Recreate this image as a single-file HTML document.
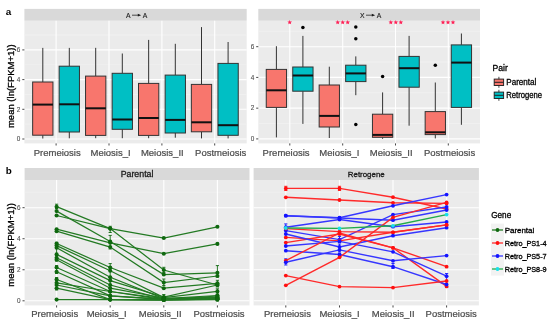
<!DOCTYPE html>
<html><head><meta charset="utf-8"><title>figure</title>
<style>html,body{margin:0;padding:0;background:#fff;}svg{display:block;will-change:transform;}</style></head>
<body><svg width="550" height="321" viewBox="0 0 550 321" font-family='"Liberation Sans", sans-serif'>
<rect width="550" height="321" fill="#fff"/>
<rect x="24.4" y="8.9" width="222.3" height="11.9" fill="#D9D9D9"/>
<rect x="24.4" y="20.8" width="222.3" height="122.6" fill="#EBEBEB"/>
<line x1="24.4" y1="124.15" x2="246.7" y2="124.15" stroke="#F4F4F4" stroke-width="0.55"/>
<line x1="24.4" y1="94.45" x2="246.7" y2="94.45" stroke="#F4F4F4" stroke-width="0.55"/>
<line x1="24.4" y1="64.75" x2="246.7" y2="64.75" stroke="#F4F4F4" stroke-width="0.55"/>
<line x1="24.4" y1="35.05" x2="246.7" y2="35.05" stroke="#F4F4F4" stroke-width="0.55"/>
<line x1="24.4" y1="139" x2="246.7" y2="139" stroke="#FFFFFF" stroke-width="1.1"/>
<line x1="24.4" y1="109.3" x2="246.7" y2="109.3" stroke="#FFFFFF" stroke-width="1.1"/>
<line x1="24.4" y1="79.6" x2="246.7" y2="79.6" stroke="#FFFFFF" stroke-width="1.1"/>
<line x1="24.4" y1="49.9" x2="246.7" y2="49.9" stroke="#FFFFFF" stroke-width="1.1"/>
<line x1="56.1" y1="20.8" x2="56.1" y2="143.4" stroke="#FFFFFF" stroke-width="1.1"/>
<line x1="109" y1="20.8" x2="109" y2="143.4" stroke="#FFFFFF" stroke-width="1.1"/>
<line x1="161.9" y1="20.8" x2="161.9" y2="143.4" stroke="#FFFFFF" stroke-width="1.1"/>
<line x1="214.7" y1="20.8" x2="214.7" y2="143.4" stroke="#FFFFFF" stroke-width="1.1"/>
<line x1="42.8" y1="47.9" x2="42.8" y2="82" stroke="#333333" stroke-width="1"/>
<line x1="42.8" y1="135.2" x2="42.8" y2="138.5" stroke="#333333" stroke-width="1"/>
<rect x="32.65" y="82" width="20.3" height="53.2" fill="#F8766D" stroke="#333333" stroke-width="1"/>
<line x1="32.65" y1="104.6" x2="52.95" y2="104.6" stroke="#111111" stroke-width="2"/>
<line x1="69.3" y1="47.9" x2="69.3" y2="66.2" stroke="#333333" stroke-width="1"/>
<line x1="69.3" y1="132" x2="69.3" y2="138.3" stroke="#333333" stroke-width="1"/>
<rect x="59.15" y="66.2" width="20.3" height="65.8" fill="#00BFC4" stroke="#333333" stroke-width="1"/>
<line x1="59.15" y1="104.3" x2="79.45" y2="104.3" stroke="#111111" stroke-width="2"/>
<line x1="95.7" y1="47.85" x2="95.7" y2="76.1" stroke="#333333" stroke-width="1"/>
<line x1="95.7" y1="135.4" x2="95.7" y2="138.2" stroke="#333333" stroke-width="1"/>
<rect x="85.55" y="76.1" width="20.3" height="59.3" fill="#F8766D" stroke="#333333" stroke-width="1"/>
<line x1="85.55" y1="108.3" x2="105.85" y2="108.3" stroke="#111111" stroke-width="2"/>
<line x1="122.3" y1="53.5" x2="122.3" y2="73.3" stroke="#333333" stroke-width="1"/>
<line x1="122.3" y1="129.3" x2="122.3" y2="138.2" stroke="#333333" stroke-width="1"/>
<rect x="112.15" y="73.3" width="20.3" height="56" fill="#00BFC4" stroke="#333333" stroke-width="1"/>
<line x1="112.15" y1="119.5" x2="132.45" y2="119.5" stroke="#111111" stroke-width="2"/>
<line x1="148.65" y1="39.9" x2="148.65" y2="83.4" stroke="#333333" stroke-width="1"/>
<line x1="148.65" y1="135.4" x2="148.65" y2="138.2" stroke="#333333" stroke-width="1"/>
<rect x="138.5" y="83.4" width="20.3" height="52" fill="#F8766D" stroke="#333333" stroke-width="1"/>
<line x1="138.5" y1="118" x2="158.8" y2="118" stroke="#111111" stroke-width="2"/>
<line x1="175.3" y1="43.8" x2="175.3" y2="75.1" stroke="#333333" stroke-width="1"/>
<line x1="175.3" y1="133" x2="175.3" y2="137.7" stroke="#333333" stroke-width="1"/>
<rect x="165.15" y="75.1" width="20.3" height="57.9" fill="#00BFC4" stroke="#333333" stroke-width="1"/>
<line x1="165.15" y1="119.9" x2="185.45" y2="119.9" stroke="#111111" stroke-width="2"/>
<line x1="201.5" y1="27.1" x2="201.5" y2="84.4" stroke="#333333" stroke-width="1"/>
<line x1="201.5" y1="131.8" x2="201.5" y2="138.4" stroke="#333333" stroke-width="1"/>
<rect x="191.35" y="84.4" width="20.3" height="47.4" fill="#F8766D" stroke="#333333" stroke-width="1"/>
<line x1="191.35" y1="122.3" x2="211.65" y2="122.3" stroke="#111111" stroke-width="2"/>
<line x1="228.1" y1="42" x2="228.1" y2="63.4" stroke="#333333" stroke-width="1"/>
<line x1="228.1" y1="135.3" x2="228.1" y2="138.4" stroke="#333333" stroke-width="1"/>
<rect x="217.95" y="63.4" width="20.3" height="71.9" fill="#00BFC4" stroke="#333333" stroke-width="1"/>
<line x1="217.95" y1="125.2" x2="238.25" y2="125.2" stroke="#111111" stroke-width="2"/>
<line x1="22.3" y1="139" x2="24.4" y2="139" stroke="#333333" stroke-width="0.9"/>
<text x="20.4" y="141.3" font-size="6.4" fill="#4D4D4D" text-anchor="end" stroke="#4D4D4D" stroke-width="0.1">0</text>
<line x1="22.3" y1="109.3" x2="24.4" y2="109.3" stroke="#333333" stroke-width="0.9"/>
<text x="20.4" y="111.6" font-size="6.4" fill="#4D4D4D" text-anchor="end" stroke="#4D4D4D" stroke-width="0.1">2</text>
<line x1="22.3" y1="79.6" x2="24.4" y2="79.6" stroke="#333333" stroke-width="0.9"/>
<text x="20.4" y="81.9" font-size="6.4" fill="#4D4D4D" text-anchor="end" stroke="#4D4D4D" stroke-width="0.1">4</text>
<line x1="22.3" y1="49.9" x2="24.4" y2="49.9" stroke="#333333" stroke-width="0.9"/>
<text x="20.4" y="52.2" font-size="6.4" fill="#4D4D4D" text-anchor="end" stroke="#4D4D4D" stroke-width="0.1">6</text>
<line x1="56.1" y1="143.4" x2="56.1" y2="145.5" stroke="#333333" stroke-width="0.9"/>
<line x1="109" y1="143.4" x2="109" y2="145.5" stroke="#333333" stroke-width="0.9"/>
<line x1="161.9" y1="143.4" x2="161.9" y2="145.5" stroke="#333333" stroke-width="0.9"/>
<line x1="214.7" y1="143.4" x2="214.7" y2="145.5" stroke="#333333" stroke-width="0.9"/>
<rect x="258.3" y="8.9" width="221.7" height="11.9" fill="#D9D9D9"/>
<rect x="258.3" y="20.8" width="221.7" height="122.6" fill="#EBEBEB"/>
<line x1="258.3" y1="123.53" x2="480" y2="123.53" stroke="#F4F4F4" stroke-width="0.55"/>
<line x1="258.3" y1="92.79" x2="480" y2="92.79" stroke="#F4F4F4" stroke-width="0.55"/>
<line x1="258.3" y1="62.05" x2="480" y2="62.05" stroke="#F4F4F4" stroke-width="0.55"/>
<line x1="258.3" y1="31.31" x2="480" y2="31.31" stroke="#F4F4F4" stroke-width="0.55"/>
<line x1="258.3" y1="138.9" x2="480" y2="138.9" stroke="#FFFFFF" stroke-width="1.1"/>
<line x1="258.3" y1="108.16" x2="480" y2="108.16" stroke="#FFFFFF" stroke-width="1.1"/>
<line x1="258.3" y1="77.42" x2="480" y2="77.42" stroke="#FFFFFF" stroke-width="1.1"/>
<line x1="258.3" y1="46.68" x2="480" y2="46.68" stroke="#FFFFFF" stroke-width="1.1"/>
<line x1="289.8" y1="20.8" x2="289.8" y2="143.4" stroke="#FFFFFF" stroke-width="1.1"/>
<line x1="342.7" y1="20.8" x2="342.7" y2="143.4" stroke="#FFFFFF" stroke-width="1.1"/>
<line x1="395.5" y1="20.8" x2="395.5" y2="143.4" stroke="#FFFFFF" stroke-width="1.1"/>
<line x1="448.3" y1="20.8" x2="448.3" y2="143.4" stroke="#FFFFFF" stroke-width="1.1"/>
<line x1="276.4" y1="46.2" x2="276.4" y2="69.4" stroke="#333333" stroke-width="1"/>
<line x1="276.4" y1="107.4" x2="276.4" y2="137.4" stroke="#333333" stroke-width="1"/>
<rect x="266.25" y="69.4" width="20.3" height="38" fill="#F8766D" stroke="#333333" stroke-width="1"/>
<line x1="266.25" y1="90.3" x2="286.55" y2="90.3" stroke="#111111" stroke-width="2"/>
<line x1="302.9" y1="35.9" x2="302.9" y2="67" stroke="#333333" stroke-width="1"/>
<line x1="302.9" y1="91.2" x2="302.9" y2="123.9" stroke="#333333" stroke-width="1"/>
<rect x="292.75" y="67" width="20.3" height="24.2" fill="#00BFC4" stroke="#333333" stroke-width="1"/>
<line x1="292.75" y1="75.5" x2="313.05" y2="75.5" stroke="#111111" stroke-width="2"/>
<circle cx="302.9" cy="27.5" r="1.75" fill="#000"/>
<line x1="329.3" y1="66.7" x2="329.3" y2="85" stroke="#333333" stroke-width="1"/>
<line x1="329.3" y1="127" x2="329.3" y2="138" stroke="#333333" stroke-width="1"/>
<rect x="319.15" y="85" width="20.3" height="42" fill="#F8766D" stroke="#333333" stroke-width="1"/>
<line x1="319.15" y1="115.9" x2="339.45" y2="115.9" stroke="#111111" stroke-width="2"/>
<line x1="355.8" y1="56.4" x2="355.8" y2="65.2" stroke="#333333" stroke-width="1"/>
<line x1="355.8" y1="81.6" x2="355.8" y2="95.2" stroke="#333333" stroke-width="1"/>
<rect x="345.65" y="65.2" width="20.3" height="16.4" fill="#00BFC4" stroke="#333333" stroke-width="1"/>
<line x1="345.65" y1="73.4" x2="365.95" y2="73.4" stroke="#111111" stroke-width="2"/>
<circle cx="355.8" cy="27.1" r="1.75" fill="#000"/>
<circle cx="355.8" cy="38.7" r="1.75" fill="#000"/>
<circle cx="355.8" cy="124.5" r="1.75" fill="#000"/>
<line x1="382.6" y1="92.4" x2="382.6" y2="114.2" stroke="#333333" stroke-width="1"/>
<line x1="382.6" y1="137.3" x2="382.6" y2="138.8" stroke="#333333" stroke-width="1"/>
<rect x="372.45" y="114.2" width="20.3" height="23.1" fill="#F8766D" stroke="#333333" stroke-width="1"/>
<line x1="372.45" y1="134.9" x2="392.75" y2="134.9" stroke="#111111" stroke-width="2"/>
<circle cx="382.6" cy="76.4" r="1.75" fill="#000"/>
<line x1="409.1" y1="35.9" x2="409.1" y2="56.4" stroke="#333333" stroke-width="1"/>
<line x1="409.1" y1="87.2" x2="409.1" y2="125.7" stroke="#333333" stroke-width="1"/>
<rect x="398.95" y="56.4" width="20.3" height="30.8" fill="#00BFC4" stroke="#333333" stroke-width="1"/>
<line x1="398.95" y1="68.2" x2="419.25" y2="68.2" stroke="#111111" stroke-width="2"/>
<line x1="435.3" y1="82.5" x2="435.3" y2="111.6" stroke="#333333" stroke-width="1"/>
<line x1="435.3" y1="134.6" x2="435.3" y2="138.4" stroke="#333333" stroke-width="1"/>
<rect x="425.15" y="111.6" width="20.3" height="23" fill="#F8766D" stroke="#333333" stroke-width="1"/>
<line x1="425.15" y1="132.3" x2="445.45" y2="132.3" stroke="#111111" stroke-width="2"/>
<circle cx="435.3" cy="65.2" r="1.75" fill="#000"/>
<line x1="461.4" y1="33.5" x2="461.4" y2="44.9" stroke="#333333" stroke-width="1"/>
<line x1="461.4" y1="107.4" x2="461.4" y2="124.8" stroke="#333333" stroke-width="1"/>
<rect x="451.25" y="44.9" width="20.3" height="62.5" fill="#00BFC4" stroke="#333333" stroke-width="1"/>
<line x1="451.25" y1="62.6" x2="471.55" y2="62.6" stroke="#111111" stroke-width="2"/>
<line x1="256.2" y1="138.9" x2="258.3" y2="138.9" stroke="#333333" stroke-width="0.9"/>
<text x="254.3" y="141.2" font-size="6.4" fill="#4D4D4D" text-anchor="end" stroke="#4D4D4D" stroke-width="0.1">0</text>
<line x1="256.2" y1="108.16" x2="258.3" y2="108.16" stroke="#333333" stroke-width="0.9"/>
<text x="254.3" y="110.46" font-size="6.4" fill="#4D4D4D" text-anchor="end" stroke="#4D4D4D" stroke-width="0.1">2</text>
<line x1="256.2" y1="77.42" x2="258.3" y2="77.42" stroke="#333333" stroke-width="0.9"/>
<text x="254.3" y="79.72" font-size="6.4" fill="#4D4D4D" text-anchor="end" stroke="#4D4D4D" stroke-width="0.1">4</text>
<line x1="256.2" y1="46.68" x2="258.3" y2="46.68" stroke="#333333" stroke-width="0.9"/>
<text x="254.3" y="48.98" font-size="6.4" fill="#4D4D4D" text-anchor="end" stroke="#4D4D4D" stroke-width="0.1">6</text>
<line x1="289.8" y1="143.4" x2="289.8" y2="145.5" stroke="#333333" stroke-width="0.9"/>
<line x1="342.7" y1="143.4" x2="342.7" y2="145.5" stroke="#333333" stroke-width="0.9"/>
<line x1="395.5" y1="143.4" x2="395.5" y2="145.5" stroke="#333333" stroke-width="0.9"/>
<line x1="448.3" y1="143.4" x2="448.3" y2="145.5" stroke="#333333" stroke-width="0.9"/>
<text x="126" y="17.7" font-size="6.8" fill="#1A1A1A" text-anchor="start" stroke="#1A1A1A" stroke-width="0.12">A</text>
<line x1="132" y1="15.2" x2="139.2" y2="15.2" stroke="#1A1A1A" stroke-width="0.75"/>
<polygon points="137.8,13.8 141.2,15.2 137.8,16.6" fill="#1A1A1A"/>
<text x="147.2" y="17.7" font-size="6.8" fill="#1A1A1A" text-anchor="end" stroke="#1A1A1A" stroke-width="0.12">A</text>
<text x="360" y="17.7" font-size="6.8" fill="#1A1A1A" text-anchor="start" stroke="#1A1A1A" stroke-width="0.12">X</text>
<line x1="366" y1="15.2" x2="373.2" y2="15.2" stroke="#1A1A1A" stroke-width="0.75"/>
<polygon points="371.8,13.8 375.2,15.2 371.8,16.6" fill="#1A1A1A"/>
<text x="381.2" y="17.7" font-size="6.8" fill="#1A1A1A" text-anchor="end" stroke="#1A1A1A" stroke-width="0.12">A</text>
<polygon points="289.7,19.9 290.33,21.43 291.98,21.56 290.73,22.63 291.11,24.24 289.7,23.38 288.29,24.24 288.67,22.63 287.42,21.56 289.07,21.43" fill="#FF1F55"/>
<polygon points="337.7,19.9 338.33,21.43 339.98,21.56 338.73,22.63 339.11,24.24 337.7,23.38 336.29,24.24 336.67,22.63 335.42,21.56 337.07,21.43" fill="#FF1F55"/>
<polygon points="342.7,19.9 343.33,21.43 344.98,21.56 343.73,22.63 344.11,24.24 342.7,23.38 341.29,24.24 341.67,22.63 340.42,21.56 342.07,21.43" fill="#FF1F55"/>
<polygon points="347.7,19.9 348.33,21.43 349.98,21.56 348.73,22.63 349.11,24.24 347.7,23.38 346.29,24.24 346.67,22.63 345.42,21.56 347.07,21.43" fill="#FF1F55"/>
<polygon points="390.8,19.9 391.43,21.43 393.08,21.56 391.83,22.63 392.21,24.24 390.8,23.38 389.39,24.24 389.77,22.63 388.52,21.56 390.17,21.43" fill="#FF1F55"/>
<polygon points="395.8,19.9 396.43,21.43 398.08,21.56 396.83,22.63 397.21,24.24 395.8,23.38 394.39,24.24 394.77,22.63 393.52,21.56 395.17,21.43" fill="#FF1F55"/>
<polygon points="400.8,19.9 401.43,21.43 403.08,21.56 401.83,22.63 402.21,24.24 400.8,23.38 399.39,24.24 399.77,22.63 398.52,21.56 400.17,21.43" fill="#FF1F55"/>
<polygon points="443,19.9 443.63,21.43 445.28,21.56 444.03,22.63 444.41,24.24 443,23.38 441.59,24.24 441.97,22.63 440.72,21.56 442.37,21.43" fill="#FF1F55"/>
<polygon points="448,19.9 448.63,21.43 450.28,21.56 449.03,22.63 449.41,24.24 448,23.38 446.59,24.24 446.97,22.63 445.72,21.56 447.37,21.43" fill="#FF1F55"/>
<polygon points="453,19.9 453.63,21.43 455.28,21.56 454.03,22.63 454.41,24.24 453,23.38 451.59,24.24 451.97,22.63 450.72,21.56 452.37,21.43" fill="#FF1F55"/>
<text x="57.2" y="155.6" font-size="9.5" fill="#4D4D4D" text-anchor="middle" stroke="#4D4D4D" stroke-width="0.22">Premeiosis</text>
<text x="110.6" y="155.6" font-size="9.5" fill="#4D4D4D" text-anchor="middle" stroke="#4D4D4D" stroke-width="0.22">Meiosis_I</text>
<text x="162.3" y="155.6" font-size="9.5" fill="#4D4D4D" text-anchor="middle" stroke="#4D4D4D" stroke-width="0.22">Meiosis_II</text>
<text x="220.7" y="155.6" font-size="9.5" fill="#4D4D4D" text-anchor="middle" stroke="#4D4D4D" stroke-width="0.22">Postmeiosis</text>
<text x="286.1" y="155.6" font-size="9.5" fill="#4D4D4D" text-anchor="middle" stroke="#4D4D4D" stroke-width="0.22">Premeiosis</text>
<text x="339.4" y="155.6" font-size="9.5" fill="#4D4D4D" text-anchor="middle" stroke="#4D4D4D" stroke-width="0.22">Meiosis_I</text>
<text x="391.2" y="155.6" font-size="9.5" fill="#4D4D4D" text-anchor="middle" stroke="#4D4D4D" stroke-width="0.22">Meiosis_II</text>
<text x="449.6" y="155.6" font-size="9.5" fill="#4D4D4D" text-anchor="middle" stroke="#4D4D4D" stroke-width="0.22">Postmeiosis</text>
<text x="0" y="0" font-size="9.5" fill="#000" text-anchor="middle" stroke="#000" stroke-width="0.3" transform="translate(14.3,86.2) rotate(-90)">mean (ln(FPKM+1))</text>
<text x="5.8" y="15.2" font-size="9.9" fill="#000" text-anchor="start" font-weight="bold">a</text>
<text x="5.8" y="174.2" font-size="9.9" fill="#000" text-anchor="start" font-weight="bold">b</text>
<text x="492.5" y="71.4" font-size="8.6" fill="#000" text-anchor="start" stroke="#000" stroke-width="0.3">Pair</text>
<line x1="498.9" y1="76.8" x2="498.9" y2="87.8" stroke="#333333" stroke-width="0.9"/>
<rect x="494.2" y="79.1" width="9.4" height="6.4" fill="#F8766D" stroke="#222222" stroke-width="0.95"/>
<line x1="494.2" y1="82.3" x2="503.6" y2="82.3" stroke="#222222" stroke-width="1"/>
<text x="506.3" y="85.4" font-size="8.4" fill="#000" text-anchor="start" stroke="#000" stroke-width="0.3" textLength="30" lengthAdjust="spacingAndGlyphs">Parental</text>
<line x1="498.9" y1="89.8" x2="498.9" y2="100.8" stroke="#333333" stroke-width="0.9"/>
<rect x="494.2" y="92.1" width="9.4" height="6.4" fill="#00BFC4" stroke="#222222" stroke-width="0.95"/>
<line x1="494.2" y1="95.3" x2="503.6" y2="95.3" stroke="#222222" stroke-width="1"/>
<text x="506.3" y="98.4" font-size="8.4" fill="#000" text-anchor="start" stroke="#000" stroke-width="0.3" textLength="35.8" lengthAdjust="spacingAndGlyphs">Retrogene</text>
<rect x="24.6" y="168" width="224.9" height="12" fill="#D9D9D9"/>
<rect x="24.6" y="180" width="224.9" height="125.4" fill="#EBEBEB"/>
<line x1="24.6" y1="285.28" x2="249.5" y2="285.28" stroke="#F4F4F4" stroke-width="0.55"/>
<line x1="24.6" y1="254.24" x2="249.5" y2="254.24" stroke="#F4F4F4" stroke-width="0.55"/>
<line x1="24.6" y1="223.2" x2="249.5" y2="223.2" stroke="#F4F4F4" stroke-width="0.55"/>
<line x1="24.6" y1="192.16" x2="249.5" y2="192.16" stroke="#F4F4F4" stroke-width="0.55"/>
<line x1="24.6" y1="300.8" x2="249.5" y2="300.8" stroke="#FFFFFF" stroke-width="1.1"/>
<line x1="24.6" y1="269.76" x2="249.5" y2="269.76" stroke="#FFFFFF" stroke-width="1.1"/>
<line x1="24.6" y1="238.72" x2="249.5" y2="238.72" stroke="#FFFFFF" stroke-width="1.1"/>
<line x1="24.6" y1="207.68" x2="249.5" y2="207.68" stroke="#FFFFFF" stroke-width="1.1"/>
<line x1="56.6" y1="180" x2="56.6" y2="305.4" stroke="#FFFFFF" stroke-width="1.1"/>
<line x1="110.2" y1="180" x2="110.2" y2="305.4" stroke="#FFFFFF" stroke-width="1.1"/>
<line x1="163.8" y1="180" x2="163.8" y2="305.4" stroke="#FFFFFF" stroke-width="1.1"/>
<line x1="217.4" y1="180" x2="217.4" y2="305.4" stroke="#FFFFFF" stroke-width="1.1"/>
<text x="137.05" y="176.6" font-size="8.8" fill="#1A1A1A" text-anchor="middle" stroke="#1A1A1A" stroke-width="0.3">Parental</text>
<line x1="56.6" y1="305.4" x2="56.6" y2="307.5" stroke="#333333" stroke-width="0.9"/>
<line x1="110.2" y1="305.4" x2="110.2" y2="307.5" stroke="#333333" stroke-width="0.9"/>
<line x1="163.8" y1="305.4" x2="163.8" y2="307.5" stroke="#333333" stroke-width="0.9"/>
<line x1="217.4" y1="305.4" x2="217.4" y2="307.5" stroke="#333333" stroke-width="0.9"/>
<rect x="253.6" y="168" width="225.3" height="12" fill="#D9D9D9"/>
<rect x="253.6" y="180" width="225.3" height="125.4" fill="#EBEBEB"/>
<line x1="253.6" y1="285.28" x2="478.9" y2="285.28" stroke="#F4F4F4" stroke-width="0.55"/>
<line x1="253.6" y1="254.24" x2="478.9" y2="254.24" stroke="#F4F4F4" stroke-width="0.55"/>
<line x1="253.6" y1="223.2" x2="478.9" y2="223.2" stroke="#F4F4F4" stroke-width="0.55"/>
<line x1="253.6" y1="192.16" x2="478.9" y2="192.16" stroke="#F4F4F4" stroke-width="0.55"/>
<line x1="253.6" y1="300.8" x2="478.9" y2="300.8" stroke="#FFFFFF" stroke-width="1.1"/>
<line x1="253.6" y1="269.76" x2="478.9" y2="269.76" stroke="#FFFFFF" stroke-width="1.1"/>
<line x1="253.6" y1="238.72" x2="478.9" y2="238.72" stroke="#FFFFFF" stroke-width="1.1"/>
<line x1="253.6" y1="207.68" x2="478.9" y2="207.68" stroke="#FFFFFF" stroke-width="1.1"/>
<line x1="285.8" y1="180" x2="285.8" y2="305.4" stroke="#FFFFFF" stroke-width="1.1"/>
<line x1="339.5" y1="180" x2="339.5" y2="305.4" stroke="#FFFFFF" stroke-width="1.1"/>
<line x1="393" y1="180" x2="393" y2="305.4" stroke="#FFFFFF" stroke-width="1.1"/>
<line x1="446.6" y1="180" x2="446.6" y2="305.4" stroke="#FFFFFF" stroke-width="1.1"/>
<text x="366.25" y="176.6" font-size="7.9" fill="#1A1A1A" text-anchor="middle" stroke="#1A1A1A" stroke-width="0.3">Retrogene</text>
<line x1="285.8" y1="305.4" x2="285.8" y2="307.5" stroke="#333333" stroke-width="0.9"/>
<line x1="339.5" y1="305.4" x2="339.5" y2="307.5" stroke="#333333" stroke-width="0.9"/>
<line x1="393" y1="305.4" x2="393" y2="307.5" stroke="#333333" stroke-width="0.9"/>
<line x1="446.6" y1="305.4" x2="446.6" y2="307.5" stroke="#333333" stroke-width="0.9"/>
<line x1="22.5" y1="300.8" x2="24.6" y2="300.8" stroke="#333333" stroke-width="0.9"/>
<text x="20.6" y="303.1" font-size="6.4" fill="#4D4D4D" text-anchor="end" stroke="#4D4D4D" stroke-width="0.1">0</text>
<line x1="22.5" y1="269.76" x2="24.6" y2="269.76" stroke="#333333" stroke-width="0.9"/>
<text x="20.6" y="272.06" font-size="6.4" fill="#4D4D4D" text-anchor="end" stroke="#4D4D4D" stroke-width="0.1">2</text>
<line x1="22.5" y1="238.72" x2="24.6" y2="238.72" stroke="#333333" stroke-width="0.9"/>
<text x="20.6" y="241.02" font-size="6.4" fill="#4D4D4D" text-anchor="end" stroke="#4D4D4D" stroke-width="0.1">4</text>
<line x1="22.5" y1="207.68" x2="24.6" y2="207.68" stroke="#333333" stroke-width="0.9"/>
<text x="20.6" y="209.98" font-size="6.4" fill="#4D4D4D" text-anchor="end" stroke="#4D4D4D" stroke-width="0.1">6</text>
<text x="54.7" y="316.6" font-size="9.5" fill="#4D4D4D" text-anchor="middle" stroke="#4D4D4D" stroke-width="0.22">Premeiosis</text>
<text x="106.7" y="316.6" font-size="9.5" fill="#4D4D4D" text-anchor="middle" stroke="#4D4D4D" stroke-width="0.22">Meiosis_I</text>
<text x="160.2" y="316.6" font-size="9.5" fill="#4D4D4D" text-anchor="middle" stroke="#4D4D4D" stroke-width="0.22">Meiosis_II</text>
<text x="219" y="316.6" font-size="9.5" fill="#4D4D4D" text-anchor="middle" stroke="#4D4D4D" stroke-width="0.22">Postmeiosis</text>
<text x="287.5" y="316.6" font-size="9.5" fill="#4D4D4D" text-anchor="middle" stroke="#4D4D4D" stroke-width="0.22">Premeiosis</text>
<text x="339.5" y="316.6" font-size="9.5" fill="#4D4D4D" text-anchor="middle" stroke="#4D4D4D" stroke-width="0.22">Meiosis_I</text>
<text x="393.2" y="316.6" font-size="9.5" fill="#4D4D4D" text-anchor="middle" stroke="#4D4D4D" stroke-width="0.22">Meiosis_II</text>
<text x="451.2" y="316.6" font-size="9.5" fill="#4D4D4D" text-anchor="middle" stroke="#4D4D4D" stroke-width="0.22">Postmeiosis</text>
<text x="0" y="0" font-size="9.5" fill="#000" text-anchor="middle" stroke="#000" stroke-width="0.3" transform="translate(13.9,244.9) rotate(-90)">mean (ln(FPKM+1))</text>
<polyline points="56.6,206.7 110.2,228.6 163.8,238 217.4,226.8" fill="none" stroke="#237A23" stroke-width="1.25"/>
<polyline points="56.6,215.5 110.2,228.6 163.8,270 217.4,285" fill="none" stroke="#237A23" stroke-width="1.25"/>
<polyline points="56.6,211.1 110.2,241.5 163.8,274.5 217.4,272.8" fill="none" stroke="#237A23" stroke-width="1.25"/>
<polyline points="56.6,229.2 110.2,242.8 163.8,253.7 217.4,243.9" fill="none" stroke="#237A23" stroke-width="1.25"/>
<polyline points="56.6,231.2 110.2,247.1 163.8,282.5 217.4,276" fill="none" stroke="#237A23" stroke-width="1.25"/>
<polyline points="56.6,243.5 110.2,267.5 163.8,288.2 217.4,283.3" fill="none" stroke="#237A23" stroke-width="1.25"/>
<polyline points="56.6,245.6 110.2,270.8 163.8,297.5 217.4,291.4" fill="none" stroke="#237A23" stroke-width="1.25"/>
<polyline points="56.6,247.8 110.2,277.3 163.8,298.5 217.4,295.5" fill="none" stroke="#237A23" stroke-width="1.25"/>
<polyline points="56.6,254.4 110.2,280.6 163.8,297 217.4,285" fill="none" stroke="#237A23" stroke-width="1.25"/>
<polyline points="56.6,257.7 110.2,285 163.8,299 217.4,297" fill="none" stroke="#237A23" stroke-width="1.25"/>
<polyline points="56.6,259.8 110.2,288.2 163.8,298 217.4,299" fill="none" stroke="#237A23" stroke-width="1.25"/>
<polyline points="56.6,267.5 110.2,291.5 163.8,299.5 217.4,296" fill="none" stroke="#237A23" stroke-width="1.25"/>
<polyline points="56.6,271.8 110.2,295.9 163.8,299 217.4,298" fill="none" stroke="#237A23" stroke-width="1.25"/>
<polyline points="56.6,279.5 110.2,299.6 163.8,300 217.4,299.5" fill="none" stroke="#237A23" stroke-width="1.25"/>
<polyline points="56.6,282.8 110.2,291.5 163.8,298.5 217.4,297.5" fill="none" stroke="#237A23" stroke-width="1.25"/>
<polyline points="56.6,285 110.2,295.9 163.8,299.5 217.4,298.5" fill="none" stroke="#237A23" stroke-width="1.25"/>
<polyline points="56.6,288.2 110.2,299.6 163.8,300 217.4,299" fill="none" stroke="#237A23" stroke-width="1.25"/>
<polyline points="56.6,299.6 110.2,299.6 163.8,299.8 217.4,299.5" fill="none" stroke="#237A23" stroke-width="1.25"/>
<line x1="56.6" y1="204.2" x2="56.6" y2="208.5" stroke="#0F680F" stroke-width="0.9"/>
<line x1="55" y1="204.2" x2="58.2" y2="204.2" stroke="#0F680F" stroke-width="0.9"/>
<line x1="55" y1="208.5" x2="58.2" y2="208.5" stroke="#0F680F" stroke-width="0.9"/>
<line x1="56.6" y1="242.3" x2="56.6" y2="261" stroke="#0F680F" stroke-width="0.9"/>
<line x1="55" y1="242.3" x2="58.2" y2="242.3" stroke="#0F680F" stroke-width="0.9"/>
<line x1="55" y1="261" x2="58.2" y2="261" stroke="#0F680F" stroke-width="0.9"/>
<line x1="56.6" y1="265.5" x2="56.6" y2="273.5" stroke="#0F680F" stroke-width="0.9"/>
<line x1="55" y1="265.5" x2="58.2" y2="265.5" stroke="#0F680F" stroke-width="0.9"/>
<line x1="55" y1="273.5" x2="58.2" y2="273.5" stroke="#0F680F" stroke-width="0.9"/>
<line x1="56.6" y1="277.5" x2="56.6" y2="290" stroke="#0F680F" stroke-width="0.9"/>
<line x1="55" y1="277.5" x2="58.2" y2="277.5" stroke="#0F680F" stroke-width="0.9"/>
<line x1="55" y1="290" x2="58.2" y2="290" stroke="#0F680F" stroke-width="0.9"/>
<line x1="110.2" y1="226.3" x2="110.2" y2="232.5" stroke="#0F680F" stroke-width="0.9"/>
<line x1="108.6" y1="226.3" x2="111.8" y2="226.3" stroke="#0F680F" stroke-width="0.9"/>
<line x1="108.6" y1="232.5" x2="111.8" y2="232.5" stroke="#0F680F" stroke-width="0.9"/>
<line x1="110.2" y1="235.4" x2="110.2" y2="249" stroke="#0F680F" stroke-width="0.9"/>
<line x1="108.6" y1="235.4" x2="111.8" y2="235.4" stroke="#0F680F" stroke-width="0.9"/>
<line x1="108.6" y1="249" x2="111.8" y2="249" stroke="#0F680F" stroke-width="0.9"/>
<line x1="110.2" y1="263.6" x2="110.2" y2="300.5" stroke="#0F680F" stroke-width="0.9"/>
<line x1="108.6" y1="263.6" x2="111.8" y2="263.6" stroke="#0F680F" stroke-width="0.9"/>
<line x1="108.6" y1="300.5" x2="111.8" y2="300.5" stroke="#0F680F" stroke-width="0.9"/>
<line x1="163.8" y1="267.3" x2="163.8" y2="272.5" stroke="#0F680F" stroke-width="0.9"/>
<line x1="162.2" y1="267.3" x2="165.4" y2="267.3" stroke="#0F680F" stroke-width="0.9"/>
<line x1="162.2" y1="272.5" x2="165.4" y2="272.5" stroke="#0F680F" stroke-width="0.9"/>
<line x1="163.8" y1="279" x2="163.8" y2="285.5" stroke="#0F680F" stroke-width="0.9"/>
<line x1="162.2" y1="279" x2="165.4" y2="279" stroke="#0F680F" stroke-width="0.9"/>
<line x1="162.2" y1="285.5" x2="165.4" y2="285.5" stroke="#0F680F" stroke-width="0.9"/>
<line x1="163.8" y1="294.5" x2="163.8" y2="301" stroke="#0F680F" stroke-width="0.9"/>
<line x1="162.2" y1="294.5" x2="165.4" y2="294.5" stroke="#0F680F" stroke-width="0.9"/>
<line x1="162.2" y1="301" x2="165.4" y2="301" stroke="#0F680F" stroke-width="0.9"/>
<line x1="217.4" y1="265.6" x2="217.4" y2="277" stroke="#0F680F" stroke-width="0.9"/>
<line x1="215.8" y1="265.6" x2="219" y2="265.6" stroke="#0F680F" stroke-width="0.9"/>
<line x1="215.8" y1="277" x2="219" y2="277" stroke="#0F680F" stroke-width="0.9"/>
<line x1="217.4" y1="280.3" x2="217.4" y2="287" stroke="#0F680F" stroke-width="0.9"/>
<line x1="215.8" y1="280.3" x2="219" y2="280.3" stroke="#0F680F" stroke-width="0.9"/>
<line x1="215.8" y1="287" x2="219" y2="287" stroke="#0F680F" stroke-width="0.9"/>
<line x1="217.4" y1="288.8" x2="217.4" y2="294" stroke="#0F680F" stroke-width="0.9"/>
<line x1="215.8" y1="288.8" x2="219" y2="288.8" stroke="#0F680F" stroke-width="0.9"/>
<line x1="215.8" y1="294" x2="219" y2="294" stroke="#0F680F" stroke-width="0.9"/>
<line x1="217.4" y1="295" x2="217.4" y2="301" stroke="#0F680F" stroke-width="0.9"/>
<line x1="215.8" y1="295" x2="219" y2="295" stroke="#0F680F" stroke-width="0.9"/>
<line x1="215.8" y1="301" x2="219" y2="301" stroke="#0F680F" stroke-width="0.9"/>
<circle cx="56.6" cy="206.7" r="2.05" fill="#0F680F"/>
<circle cx="110.2" cy="228.6" r="2.05" fill="#0F680F"/>
<circle cx="163.8" cy="238" r="2.05" fill="#0F680F"/>
<circle cx="217.4" cy="226.8" r="2.05" fill="#0F680F"/>
<circle cx="56.6" cy="215.5" r="2.05" fill="#0F680F"/>
<circle cx="110.2" cy="228.6" r="2.05" fill="#0F680F"/>
<circle cx="163.8" cy="270" r="2.05" fill="#0F680F"/>
<circle cx="217.4" cy="285" r="2.05" fill="#0F680F"/>
<circle cx="56.6" cy="211.1" r="2.05" fill="#0F680F"/>
<circle cx="110.2" cy="241.5" r="2.05" fill="#0F680F"/>
<circle cx="163.8" cy="274.5" r="2.05" fill="#0F680F"/>
<circle cx="217.4" cy="272.8" r="2.05" fill="#0F680F"/>
<circle cx="56.6" cy="229.2" r="2.05" fill="#0F680F"/>
<circle cx="110.2" cy="242.8" r="2.05" fill="#0F680F"/>
<circle cx="163.8" cy="253.7" r="2.05" fill="#0F680F"/>
<circle cx="217.4" cy="243.9" r="2.05" fill="#0F680F"/>
<circle cx="56.6" cy="231.2" r="2.05" fill="#0F680F"/>
<circle cx="110.2" cy="247.1" r="2.05" fill="#0F680F"/>
<circle cx="163.8" cy="282.5" r="2.05" fill="#0F680F"/>
<circle cx="217.4" cy="276" r="2.05" fill="#0F680F"/>
<circle cx="56.6" cy="243.5" r="2.05" fill="#0F680F"/>
<circle cx="110.2" cy="267.5" r="2.05" fill="#0F680F"/>
<circle cx="163.8" cy="288.2" r="2.05" fill="#0F680F"/>
<circle cx="217.4" cy="283.3" r="2.05" fill="#0F680F"/>
<circle cx="56.6" cy="245.6" r="2.05" fill="#0F680F"/>
<circle cx="110.2" cy="270.8" r="2.05" fill="#0F680F"/>
<circle cx="163.8" cy="297.5" r="2.05" fill="#0F680F"/>
<circle cx="217.4" cy="291.4" r="2.05" fill="#0F680F"/>
<circle cx="56.6" cy="247.8" r="2.05" fill="#0F680F"/>
<circle cx="110.2" cy="277.3" r="2.05" fill="#0F680F"/>
<circle cx="163.8" cy="298.5" r="2.05" fill="#0F680F"/>
<circle cx="217.4" cy="295.5" r="2.05" fill="#0F680F"/>
<circle cx="56.6" cy="254.4" r="2.05" fill="#0F680F"/>
<circle cx="110.2" cy="280.6" r="2.05" fill="#0F680F"/>
<circle cx="163.8" cy="297" r="2.05" fill="#0F680F"/>
<circle cx="217.4" cy="285" r="2.05" fill="#0F680F"/>
<circle cx="56.6" cy="257.7" r="2.05" fill="#0F680F"/>
<circle cx="110.2" cy="285" r="2.05" fill="#0F680F"/>
<circle cx="163.8" cy="299" r="2.05" fill="#0F680F"/>
<circle cx="217.4" cy="297" r="2.05" fill="#0F680F"/>
<circle cx="56.6" cy="259.8" r="2.05" fill="#0F680F"/>
<circle cx="110.2" cy="288.2" r="2.05" fill="#0F680F"/>
<circle cx="163.8" cy="298" r="2.05" fill="#0F680F"/>
<circle cx="217.4" cy="299" r="2.05" fill="#0F680F"/>
<circle cx="56.6" cy="267.5" r="2.05" fill="#0F680F"/>
<circle cx="110.2" cy="291.5" r="2.05" fill="#0F680F"/>
<circle cx="163.8" cy="299.5" r="2.05" fill="#0F680F"/>
<circle cx="217.4" cy="296" r="2.05" fill="#0F680F"/>
<circle cx="56.6" cy="271.8" r="2.05" fill="#0F680F"/>
<circle cx="110.2" cy="295.9" r="2.05" fill="#0F680F"/>
<circle cx="163.8" cy="299" r="2.05" fill="#0F680F"/>
<circle cx="217.4" cy="298" r="2.05" fill="#0F680F"/>
<circle cx="56.6" cy="279.5" r="2.05" fill="#0F680F"/>
<circle cx="110.2" cy="299.6" r="2.05" fill="#0F680F"/>
<circle cx="163.8" cy="300" r="2.05" fill="#0F680F"/>
<circle cx="217.4" cy="299.5" r="2.05" fill="#0F680F"/>
<circle cx="56.6" cy="282.8" r="2.05" fill="#0F680F"/>
<circle cx="110.2" cy="291.5" r="2.05" fill="#0F680F"/>
<circle cx="163.8" cy="298.5" r="2.05" fill="#0F680F"/>
<circle cx="217.4" cy="297.5" r="2.05" fill="#0F680F"/>
<circle cx="56.6" cy="285" r="2.05" fill="#0F680F"/>
<circle cx="110.2" cy="295.9" r="2.05" fill="#0F680F"/>
<circle cx="163.8" cy="299.5" r="2.05" fill="#0F680F"/>
<circle cx="217.4" cy="298.5" r="2.05" fill="#0F680F"/>
<circle cx="56.6" cy="288.2" r="2.05" fill="#0F680F"/>
<circle cx="110.2" cy="299.6" r="2.05" fill="#0F680F"/>
<circle cx="163.8" cy="300" r="2.05" fill="#0F680F"/>
<circle cx="217.4" cy="299" r="2.05" fill="#0F680F"/>
<circle cx="56.6" cy="299.6" r="2.05" fill="#0F680F"/>
<circle cx="110.2" cy="299.6" r="2.05" fill="#0F680F"/>
<circle cx="163.8" cy="299.8" r="2.05" fill="#0F680F"/>
<circle cx="217.4" cy="299.5" r="2.05" fill="#0F680F"/>
<polyline points="285.8,188.4 339.5,188.4 393,197.2 446.6,209" fill="none" stroke="#FF2A2A" stroke-width="1.4"/>
<polyline points="285.8,197.3 339.5,200 393,202.8 446.6,203.4" fill="none" stroke="#FF2A2A" stroke-width="1.4"/>
<polyline points="285.8,215.7 339.5,218 393,220.2 446.6,210" fill="none" stroke="#3636FF" stroke-width="1.4"/>
<polyline points="285.8,215.7 339.5,217.7 393,205.8 446.6,194.6" fill="none" stroke="#3636FF" stroke-width="1.4"/>
<polyline points="285.8,227.2 339.5,219.5 393,226.7 446.6,222" fill="none" stroke="#3636FF" stroke-width="1.4"/>
<polyline points="285.8,230.6 339.5,239.6 393,214.6 446.6,207" fill="none" stroke="#3636FF" stroke-width="1.4"/>
<polyline points="285.8,237.4 339.5,240.9 393,232.3 446.6,224.9" fill="none" stroke="#FF2A2A" stroke-width="1.4"/>
<polyline points="285.8,242.6 339.5,234 393,247.8 446.6,286.4" fill="none" stroke="#FF2A2A" stroke-width="1.4"/>
<polyline points="285.8,234 339.5,247 393,235.7 446.6,227.7" fill="none" stroke="#3636FF" stroke-width="1.4"/>
<polyline points="285.8,246 339.5,241.4 393,251.8 446.6,276.2" fill="none" stroke="#3636FF" stroke-width="1.4"/>
<polyline points="285.8,250.7 339.5,254.5 393,266.7 446.6,284.5" fill="none" stroke="#3636FF" stroke-width="1.4"/>
<polyline points="285.8,260.6 339.5,233 393,247.8 446.6,266.7" fill="none" stroke="#FF2A2A" stroke-width="1.4"/>
<polyline points="285.8,228.6 339.5,231.6 393,232.3 446.6,224.9" fill="none" stroke="#FF2A2A" stroke-width="1.4"/>
<polyline points="285.8,262.3 339.5,249.9 393,260.8 446.6,255.6" fill="none" stroke="#3636FF" stroke-width="1.4"/>
<polyline points="285.8,275.6 339.5,286.6 393,287.6 446.6,281" fill="none" stroke="#FF2A2A" stroke-width="1.4"/>
<polyline points="285.8,285.3 339.5,257.3 393,217.4 446.6,202.4" fill="none" stroke="#FF2A2A" stroke-width="1.4"/>
<polyline points="285.8,228 339.5,228.4 393,225.8 446.6,214.6" fill="none" stroke="#22AA4A" stroke-width="1.4"/>
<line x1="285.8" y1="223.9" x2="285.8" y2="229.5" stroke="#1414FF" stroke-width="0.9"/>
<line x1="284.2" y1="223.9" x2="287.4" y2="223.9" stroke="#1414FF" stroke-width="0.9"/>
<line x1="284.2" y1="229.5" x2="287.4" y2="229.5" stroke="#1414FF" stroke-width="0.9"/>
<line x1="285.8" y1="258.8" x2="285.8" y2="265" stroke="#1414FF" stroke-width="0.9"/>
<line x1="284.2" y1="258.8" x2="287.4" y2="258.8" stroke="#1414FF" stroke-width="0.9"/>
<line x1="284.2" y1="265" x2="287.4" y2="265" stroke="#1414FF" stroke-width="0.9"/>
<line x1="339.5" y1="244" x2="339.5" y2="252" stroke="#1414FF" stroke-width="0.9"/>
<line x1="337.9" y1="244" x2="341.1" y2="244" stroke="#1414FF" stroke-width="0.9"/>
<line x1="337.9" y1="252" x2="341.1" y2="252" stroke="#1414FF" stroke-width="0.9"/>
<line x1="339.5" y1="236.5" x2="339.5" y2="242" stroke="#1414FF" stroke-width="0.9"/>
<line x1="337.9" y1="236.5" x2="341.1" y2="236.5" stroke="#1414FF" stroke-width="0.9"/>
<line x1="337.9" y1="242" x2="341.1" y2="242" stroke="#1414FF" stroke-width="0.9"/>
<line x1="393" y1="263.5" x2="393" y2="268.5" stroke="#1414FF" stroke-width="0.9"/>
<line x1="391.4" y1="263.5" x2="394.6" y2="263.5" stroke="#1414FF" stroke-width="0.9"/>
<line x1="391.4" y1="268.5" x2="394.6" y2="268.5" stroke="#1414FF" stroke-width="0.9"/>
<line x1="446.6" y1="273.5" x2="446.6" y2="287.5" stroke="#1414FF" stroke-width="0.9"/>
<line x1="445" y1="273.5" x2="448.2" y2="273.5" stroke="#1414FF" stroke-width="0.9"/>
<line x1="445" y1="287.5" x2="448.2" y2="287.5" stroke="#1414FF" stroke-width="0.9"/>
<line x1="285.8" y1="186.3" x2="285.8" y2="190.5" stroke="#FF1010" stroke-width="0.9"/>
<line x1="284.2" y1="186.3" x2="287.4" y2="186.3" stroke="#FF1010" stroke-width="0.9"/>
<line x1="284.2" y1="190.5" x2="287.4" y2="190.5" stroke="#FF1010" stroke-width="0.9"/>
<line x1="339.5" y1="186.3" x2="339.5" y2="190.5" stroke="#FF1010" stroke-width="0.9"/>
<line x1="337.9" y1="186.3" x2="341.1" y2="186.3" stroke="#FF1010" stroke-width="0.9"/>
<line x1="337.9" y1="190.5" x2="341.1" y2="190.5" stroke="#FF1010" stroke-width="0.9"/>
<circle cx="285.8" cy="188.4" r="1.9" fill="#FF1010"/>
<circle cx="339.5" cy="188.4" r="1.9" fill="#FF1010"/>
<circle cx="393" cy="197.2" r="1.9" fill="#FF1010"/>
<circle cx="446.6" cy="209" r="1.9" fill="#FF1010"/>
<circle cx="285.8" cy="197.3" r="1.9" fill="#FF1010"/>
<circle cx="339.5" cy="200" r="1.9" fill="#FF1010"/>
<circle cx="393" cy="202.8" r="1.9" fill="#FF1010"/>
<circle cx="446.6" cy="203.4" r="1.9" fill="#FF1010"/>
<circle cx="285.8" cy="215.7" r="1.9" fill="#1414FF"/>
<circle cx="339.5" cy="218" r="1.9" fill="#1414FF"/>
<circle cx="393" cy="220.2" r="1.9" fill="#1414FF"/>
<circle cx="446.6" cy="210" r="1.9" fill="#1414FF"/>
<circle cx="285.8" cy="215.7" r="1.9" fill="#1414FF"/>
<circle cx="339.5" cy="217.7" r="1.9" fill="#1414FF"/>
<circle cx="393" cy="205.8" r="1.9" fill="#1414FF"/>
<circle cx="446.6" cy="194.6" r="1.9" fill="#1414FF"/>
<circle cx="285.8" cy="227.2" r="1.9" fill="#1414FF"/>
<circle cx="339.5" cy="219.5" r="1.9" fill="#1414FF"/>
<circle cx="393" cy="226.7" r="1.9" fill="#1414FF"/>
<circle cx="446.6" cy="222" r="1.9" fill="#1414FF"/>
<circle cx="285.8" cy="230.6" r="1.9" fill="#1414FF"/>
<circle cx="339.5" cy="239.6" r="1.9" fill="#1414FF"/>
<circle cx="393" cy="214.6" r="1.9" fill="#1414FF"/>
<circle cx="446.6" cy="207" r="1.9" fill="#1414FF"/>
<circle cx="285.8" cy="237.4" r="1.9" fill="#FF1010"/>
<circle cx="339.5" cy="240.9" r="1.9" fill="#FF1010"/>
<circle cx="393" cy="232.3" r="1.9" fill="#FF1010"/>
<circle cx="446.6" cy="224.9" r="1.9" fill="#FF1010"/>
<circle cx="285.8" cy="242.6" r="1.9" fill="#FF1010"/>
<circle cx="339.5" cy="234" r="1.9" fill="#FF1010"/>
<circle cx="393" cy="247.8" r="1.9" fill="#FF1010"/>
<circle cx="446.6" cy="286.4" r="1.9" fill="#FF1010"/>
<circle cx="285.8" cy="234" r="1.9" fill="#1414FF"/>
<circle cx="339.5" cy="247" r="1.9" fill="#1414FF"/>
<circle cx="393" cy="235.7" r="1.9" fill="#1414FF"/>
<circle cx="446.6" cy="227.7" r="1.9" fill="#1414FF"/>
<circle cx="285.8" cy="246" r="1.9" fill="#1414FF"/>
<circle cx="339.5" cy="241.4" r="1.9" fill="#1414FF"/>
<circle cx="393" cy="251.8" r="1.9" fill="#1414FF"/>
<circle cx="446.6" cy="276.2" r="1.9" fill="#1414FF"/>
<circle cx="285.8" cy="250.7" r="1.9" fill="#1414FF"/>
<circle cx="339.5" cy="254.5" r="1.9" fill="#1414FF"/>
<circle cx="393" cy="266.7" r="1.9" fill="#1414FF"/>
<circle cx="446.6" cy="284.5" r="1.9" fill="#1414FF"/>
<circle cx="285.8" cy="260.6" r="1.9" fill="#FF1010"/>
<circle cx="339.5" cy="233" r="1.9" fill="#FF1010"/>
<circle cx="393" cy="247.8" r="1.9" fill="#FF1010"/>
<circle cx="446.6" cy="266.7" r="1.9" fill="#FF1010"/>
<circle cx="285.8" cy="228.6" r="1.9" fill="#FF1010"/>
<circle cx="339.5" cy="231.6" r="1.9" fill="#FF1010"/>
<circle cx="393" cy="232.3" r="1.9" fill="#FF1010"/>
<circle cx="446.6" cy="224.9" r="1.9" fill="#FF1010"/>
<circle cx="285.8" cy="262.3" r="1.9" fill="#1414FF"/>
<circle cx="339.5" cy="249.9" r="1.9" fill="#1414FF"/>
<circle cx="393" cy="260.8" r="1.9" fill="#1414FF"/>
<circle cx="446.6" cy="255.6" r="1.9" fill="#1414FF"/>
<circle cx="285.8" cy="275.6" r="1.9" fill="#FF1010"/>
<circle cx="339.5" cy="286.6" r="1.9" fill="#FF1010"/>
<circle cx="393" cy="287.6" r="1.9" fill="#FF1010"/>
<circle cx="446.6" cy="281" r="1.9" fill="#FF1010"/>
<circle cx="285.8" cy="285.3" r="1.9" fill="#FF1010"/>
<circle cx="339.5" cy="257.3" r="1.9" fill="#FF1010"/>
<circle cx="393" cy="217.4" r="1.9" fill="#FF1010"/>
<circle cx="446.6" cy="202.4" r="1.9" fill="#FF1010"/>
<circle cx="285.8" cy="228" r="1.9" fill="#1AE0EA"/>
<circle cx="339.5" cy="228.4" r="1.9" fill="#1AE0EA"/>
<circle cx="393" cy="225.8" r="1.9" fill="#1AE0EA"/>
<circle cx="446.6" cy="214.6" r="1.9" fill="#1AE0EA"/>
<text x="491.2" y="218.3" font-size="8.2" fill="#000" text-anchor="start" stroke="#000" stroke-width="0.3">Gene</text>
<rect x="491" y="223.6" width="13" height="52" fill="#F2F2F2"/>
<line x1="492" y1="230" x2="503" y2="230" stroke="#237A23" stroke-width="1.3"/>
<circle cx="497.5" cy="230" r="1.9" fill="#0F680F"/>
<text x="504.7" y="232.8" font-size="7.95" fill="#000" text-anchor="start" stroke="#000" stroke-width="0.3">Parental</text>
<line x1="492" y1="243" x2="503" y2="243" stroke="#FF2A2A" stroke-width="1.3"/>
<circle cx="497.5" cy="243" r="1.9" fill="#FF1010"/>
<text x="504.7" y="245.8" font-size="7.25" fill="#000" text-anchor="start" stroke="#000" stroke-width="0.3">Retro_PS1-4</text>
<line x1="492" y1="256" x2="503" y2="256" stroke="#3636FF" stroke-width="1.3"/>
<circle cx="497.5" cy="256" r="1.9" fill="#1414FF"/>
<text x="504.7" y="258.8" font-size="7.25" fill="#000" text-anchor="start" stroke="#000" stroke-width="0.3">Retro_PS5-7</text>
<line x1="492" y1="269" x2="503" y2="269" stroke="#22AA4A" stroke-width="1.3"/>
<circle cx="497.5" cy="269" r="1.9" fill="#1AE0EA"/>
<text x="504.7" y="271.8" font-size="7.25" fill="#000" text-anchor="start" stroke="#000" stroke-width="0.3">Retro_PS8-9</text>
</svg></body></html>
